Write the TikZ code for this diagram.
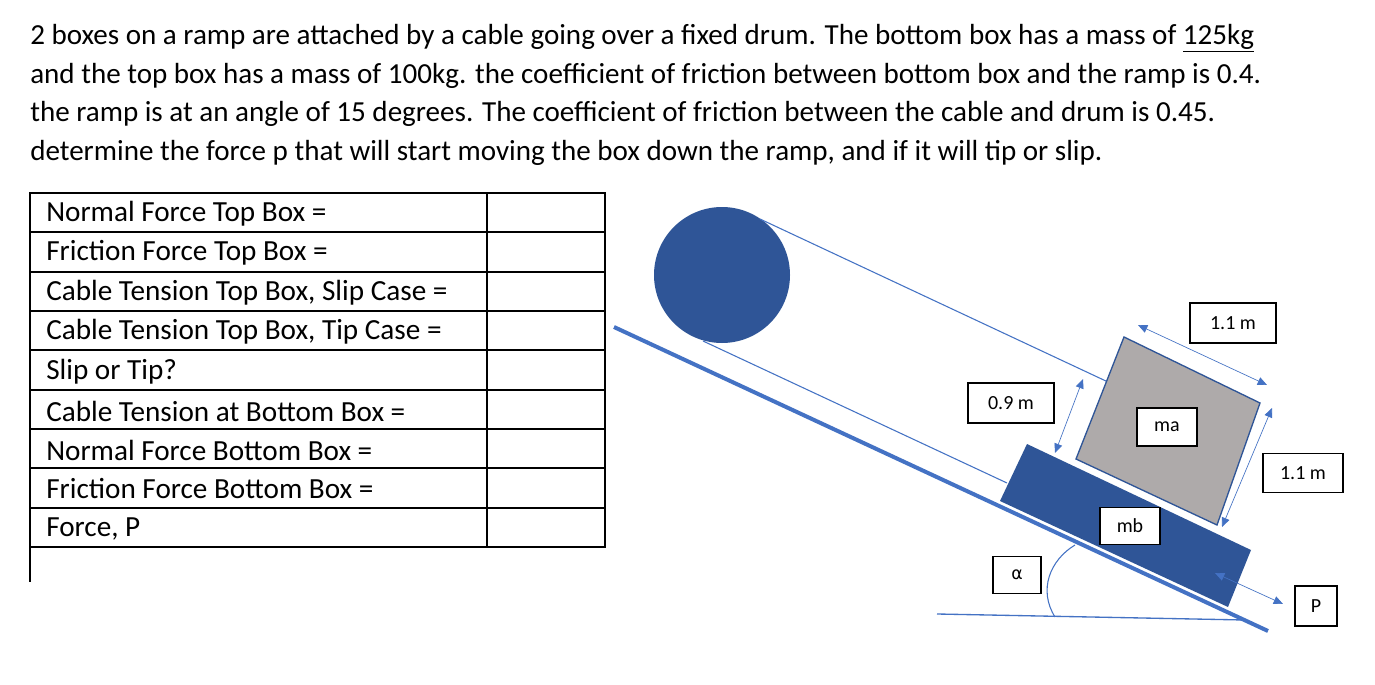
\documentclass[tikz,border=0pt]{standalone}
\usepackage{fontspec}
\setmainfont{Carlito}
\newfontfamily\symf{DejaVu Sans}
\usetikzlibrary{arrows.meta}
\definecolor{dblue}{HTML}{2F5597}
\definecolor{lblue}{HTML}{4472C4}
\definecolor{gbox}{HTML}{AEAAAA}
\begin{document}
\begin{tikzpicture}[x=0.75pt,y=-0.75pt,
  para/.style={anchor=west,inner sep=0pt,font=\fontsize{21.8}{26}\selectfont},
  cell/.style={anchor=west,inner sep=0pt,font=\fontsize{21.9}{26}\selectfont},
  lab/.style={draw=black,fill=white,line width=0.8pt,inner sep=0pt,font=\fontsize{15}{18}\selectfont},
  dim/.style={lblue,line width=0.5pt,{Triangle[length=7pt,width=6pt]}-{Triangle[length=7pt,width=6pt]}},
  cable/.style={lblue,line width=0.8pt}]
\useasboundingbox (0,0) rectangle (1375,685);
\fill[white] (0,0) rectangle (1375,685);
% paragraph
\node[para] (t1) at (30,38) {2 boxes on a ramp are attached by a cable going over a fixed drum. The bottom box has a mass of \underline{125kg}};
\node[para] (t2) at (30,76) {and the top box has a mass of 100kg. the coefficient of friction between bottom box and the ramp is 0.4.};
\node[para] (t3) at (30,114) {the ramp is at an angle of 15 degrees. The coefficient of friction between the cable and drum is 0.45.};
\node[para] (t4) at (30,153) {determine the force p that will start moving the box down the ramp, and if it will tip or slip.};
% table
\draw[line width=0.8pt] (30,193) rectangle (605,547);
\draw[line width=0.8pt] (487,193) -- (487,547);
\foreach \yy in {232,272,311,350,390,429,468,508} \draw[line width=0.8pt] (30,\yy) -- (605,\yy);
\draw[line width=1.5pt] (30,547) -- (30,582);
\node[cell] (r1) at (46,214) {Normal Force Top Box =};
\node[cell] (r2) at (46,253) {Friction Force Top Box =};
\node[cell] (r3) at (46,293) {Cable Tension Top Box, Slip Case =};
\node[cell] (r4) at (46,332) {Cable Tension Top Box, Tip Case =};
\node[cell] (r5) at (46,372) {Slip or Tip?};
\node[cell] (r6) at (46,411) {Cable Tension at Bottom Box =};
\node[cell] (r7) at (46,450) {Normal Force Bottom Box =};
\node[cell] (r8) at (46,489) {Friction Force Bottom Box =};
\node[cell] (r9) at (46,529) {Force, P};
% drum
\fill[dblue] (722,275) circle (68);
% cables
\draw[cable] (760,219) -- (1108,382);
\draw[cable] (703,341) -- (1007,483);
% ramp
\draw[lblue,line width=3pt] (614,327) -- (1268,631);
% horizontal line and angle arc
\draw[lblue,line width=1pt] (937,614) -- (1245,620);
\draw[lblue,line width=0.8pt] (1055,617) .. controls (1038,590) and (1050,560) .. (1075,545);
% bottom box
\fill[dblue] (1027,444) -- (1251,550) -- (1228,607) -- (1000,501) -- cycle;
% top box
\draw[dblue,line width=1pt,fill=gbox] (1124,337) -- (1260,403) -- (1217,525) -- (1076,459) -- cycle;
% dimension arrows
\draw[dim] (1083,379) -- (1055,453);
\draw[dim] (1138,325) -- (1267,385);
\draw[dim] (1272,408) -- (1222,527);
\draw[dim] (1215,573) -- (1283,604);
% labels
\node[lab,minimum width=86pt*0.75,minimum height=40pt*0.75] (l11a) at (1233,323) {1.1 m};
\node[lab,minimum width=86pt*0.75,minimum height=40pt*0.75] (l09) at (1011,403) {0.9 m};
\node[lab,minimum width=60pt*0.75,minimum height=38pt*0.75] (lma) at (1167,427) {ma};
\node[lab,minimum width=80pt*0.75,minimum height=39pt*0.75] (l11b) at (1303,473) {1.1 m};
\node[lab,minimum width=60pt*0.75,minimum height=37pt*0.75] (lmb) at (1130,526) {mb};
\node[lab,minimum width=48pt*0.75,minimum height=37pt*0.75,font=\symf\fontsize{13}{15}\selectfont] (lal) at (1017,575) {α};
\node[lab,minimum width=42pt*0.75,minimum height=40pt*0.75] (lp) at (1316,606) {P};
\end{tikzpicture}
\end{document}
